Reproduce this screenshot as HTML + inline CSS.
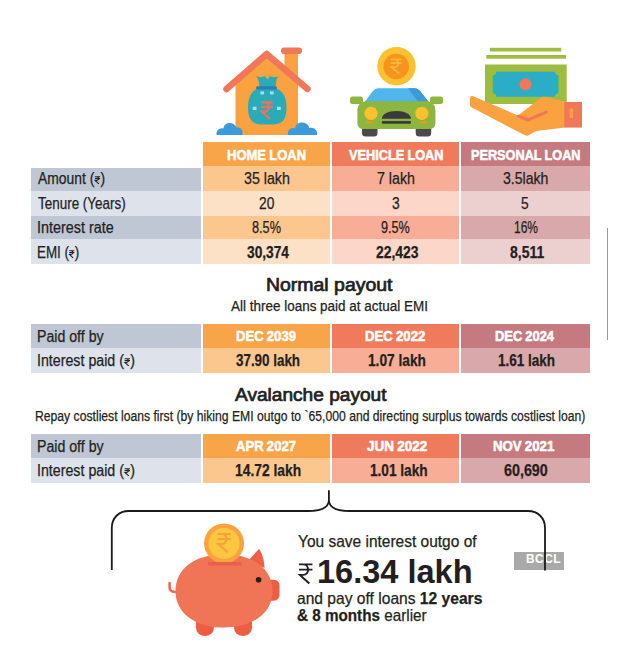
<!DOCTYPE html>
<html><head><meta charset="utf-8"><title>Loan payout</title>
<style>
html,body{margin:0;padding:0;background:#fff}
body{width:630px;height:647px;position:relative;overflow:hidden;font-family:"Liberation Sans",sans-serif;color:#231f20}
.r{position:absolute}
.t{position:absolute;white-space:nowrap;line-height:1;transform-origin:0 0;display:inline-block}
.t b{font-weight:bold}
.t{-webkit-text-stroke:0.25px currentColor}
.rs{display:inline-block;vertical-align:baseline;overflow:visible}
.art{position:absolute;left:0;top:0}
</style></head><body>
<div class="r" style="left:203.0px;top:142.0px;width:127.0px;height:24.3px;background:#f8a549"></div>
<div class="r" style="left:332.3px;top:142.0px;width:126.5px;height:24.3px;background:#f07b5c"></div>
<div class="r" style="left:461.0px;top:142.0px;width:129.0px;height:24.3px;background:#c47a7e"></div>
<div class="r" style="left:31.0px;top:167.5px;width:170.0px;height:23.1px;background:#bfc7d5"></div>
<div class="r" style="left:203.0px;top:166.3px;width:127.0px;height:24.3px;background:#fcc78e"></div>
<div class="r" style="left:332.3px;top:166.3px;width:126.5px;height:24.3px;background:#f8ae96"></div>
<div class="r" style="left:461.0px;top:166.3px;width:129.0px;height:24.3px;background:#d9a8aa"></div>
<div class="r" style="left:31.0px;top:190.6px;width:170.0px;height:25.4px;background:#dde2eb"></div>
<div class="r" style="left:203.0px;top:190.6px;width:127.0px;height:25.4px;background:#fde1c6"></div>
<div class="r" style="left:332.3px;top:190.6px;width:126.5px;height:25.4px;background:#fcd6c8"></div>
<div class="r" style="left:461.0px;top:190.6px;width:129.0px;height:25.4px;background:#ecd0d0"></div>
<div class="r" style="left:31.0px;top:216.0px;width:170.0px;height:23.4px;background:#bfc7d5"></div>
<div class="r" style="left:203.0px;top:216.0px;width:127.0px;height:23.4px;background:#fcc78e"></div>
<div class="r" style="left:332.3px;top:216.0px;width:126.5px;height:23.4px;background:#f8ae96"></div>
<div class="r" style="left:461.0px;top:216.0px;width:129.0px;height:23.4px;background:#d9a8aa"></div>
<div class="r" style="left:31.0px;top:239.4px;width:170.0px;height:24.9px;background:#dde2eb"></div>
<div class="r" style="left:203.0px;top:239.4px;width:127.0px;height:24.9px;background:#fde1c6"></div>
<div class="r" style="left:332.3px;top:239.4px;width:126.5px;height:24.9px;background:#fcd6c8"></div>
<div class="r" style="left:461.0px;top:239.4px;width:129.0px;height:24.9px;background:#ecd0d0"></div>
<div class="r" style="left:31.0px;top:324.0px;width:170.0px;height:24.4px;background:#bfc7d5"></div>
<div class="r" style="left:31.0px;top:348.4px;width:170.0px;height:24.6px;background:#dde2eb"></div>
<div class="r" style="left:203.0px;top:324.0px;width:127.0px;height:24.4px;background:#f8a549"></div>
<div class="r" style="left:203.0px;top:348.4px;width:127.0px;height:24.6px;background:#fcc78e"></div>
<div class="r" style="left:332.3px;top:324.0px;width:126.5px;height:24.4px;background:#f07b5c"></div>
<div class="r" style="left:332.3px;top:348.4px;width:126.5px;height:24.6px;background:#f8ae96"></div>
<div class="r" style="left:461.0px;top:324.0px;width:129.0px;height:24.4px;background:#c47a7e"></div>
<div class="r" style="left:461.0px;top:348.4px;width:129.0px;height:24.6px;background:#d9a8aa"></div>
<div class="r" style="left:31.0px;top:434.0px;width:170.0px;height:24.4px;background:#bfc7d5"></div>
<div class="r" style="left:31.0px;top:458.4px;width:170.0px;height:24.6px;background:#dde2eb"></div>
<div class="r" style="left:203.0px;top:434.0px;width:127.0px;height:24.4px;background:#f8a549"></div>
<div class="r" style="left:203.0px;top:458.4px;width:127.0px;height:24.6px;background:#fcc78e"></div>
<div class="r" style="left:332.3px;top:434.0px;width:126.5px;height:24.4px;background:#f07b5c"></div>
<div class="r" style="left:332.3px;top:458.4px;width:126.5px;height:24.6px;background:#f8ae96"></div>
<div class="r" style="left:461.0px;top:434.0px;width:129.0px;height:24.4px;background:#c47a7e"></div>
<div class="r" style="left:461.0px;top:458.4px;width:129.0px;height:24.6px;background:#d9a8aa"></div>
<div class="r" style="left:514.1px;top:551.7px;width:50px;height:18.1px;background:#a9a9a9"></div>
<div class="r" style="left:606.5px;top:228px;width:1px;height:112px;background:#9a9a9a"></div>
<span class="t" id="t43" style="left:525.75px;top:553.00px;font-size:12.5px;font-weight:bold;color:#fff;transform:scaleX(0.9514);letter-spacing:0.5px;-webkit-text-stroke:0;z-index:0;">BCCL</span>
<svg class="art" width="630" height="647" viewBox="0 0 630 647">
<!-- HOUSE -->
<g id="house">
<rect x="284.500" y="52" width="13.500" height="40" fill="#f9a23f"/>
<rect x="281" y="47.500" width="21" height="6.500" rx="3" fill="#f0775a"/>
<path d="M235.500 135V82L266.700 54L298 82V135z" fill="#f9a23f"/>
<path d="M226.500 89L266.700 54L307.500 89" fill="none" stroke="#f0775a" stroke-width="6.500" stroke-linecap="round" stroke-linejoin="round"/>
<path d="M256.500 76.200c3.500 1.300 6 1.300 8.500-.2l2.500 3.500l2.500-3.500c2.500 1.500 5 1.500 8 .2c-2 4.500-3 8.500-2 12h-17c1-3.500 0-7.500-2.500-12z" fill="#2aabb9"/>
<path d="M257 89C250.500 92 248 99 248 108C248 118.500 252 124.400 261 124.400H273.500C282.500 124.400 286.500 118.500 286.500 108C286.500 99 284 92 277.500 89z" fill="#2aabb9"/>
<rect x="256" y="86.200" width="21" height="3.400" rx="1.500" fill="#2d7db3"/>
<g fill="#a9dcec"><rect x="260.300" y="91.400" width="3.800" height="3"/><rect x="269.900" y="91.400" width="3.800" height="3"/><rect x="252.700" y="106.700" width="3.800" height="3.300"/><rect x="277" y="106.700" width="3.800" height="3.300"/></g>
<path d="M0.8 1.2H9.4M0.8 4.6H9.4M0.8 1.2H3.6C7.600 1.2 7.600 8 3.6 8H1.4L7.4 13.6" fill="none" transform="translate(259.800 100.800) scale(1.370 1.340)" stroke="#f0705a" stroke-width="1.650"/>
<path d="M216.500 135c-.5-4.500 3-7.500 7-6.500c.5-6.500 10-7.500 13-1c4-1 7 3 6 7.500z" fill="#3d9bdc"/>
<path d="M288 135c-1-5 3-8 7-6.500c1-7.500 12-8 14.500-.5c4.500-1.500 8.500 2.500 7.500 7z" fill="#3d9bdc"/>
</g>
<!-- CAR -->
<g id="car">
<circle cx="396.500" cy="66.200" r="19.200" fill="#fbc12e"/>
<circle cx="396.200" cy="66.500" r="12.700" fill="#f7941e"/>
<path d="M0.8 1.2H9.4M0.8 4.6H9.4M0.8 1.2H3.6C7.600 1.2 7.600 8 3.6 8H1.4L7.4 13.6" fill="none" transform="translate(389.800 57.900) scale(1.280 1.160)" stroke="#fbb63a" stroke-width="1.500"/>
<rect x="362" y="125" width="15.500" height="11.500" rx="3.500" fill="#4a4a4c"/>
<rect x="415.700" y="125" width="15.500" height="11.500" rx="3.500" fill="#4a4a4c"/>
<rect x="350" y="96.500" width="13" height="7.500" rx="2.500" fill="#8db63f"/>
<rect x="430" y="96.500" width="13" height="7.500" rx="2.500" fill="#8db63f"/>
<path d="M364 103L372.500 91.500c1.500-2 3.500-3.300 6-3.300h36c2.500 0 4.500 1.300 6 3.300L429.500 103z" fill="#4fb5ea"/>
<path d="M408 88.200h6.500c2.500 0 4.500 1.300 6 3.300L429.500 103H419z" fill="#3c9ad6"/>
<path d="M357.400 110c0-5 4-8.800 9-8.800h60c5 0 9 3.800 9 8.800v13.500c0 3-2.500 5.500-5.500 5.500h-67c-3 0-5.500-2.500-5.500-5.500z" fill="#8db63f"/>
<circle cx="371" cy="113.300" r="6.600" fill="#fbc12e"/>
<circle cx="421.800" cy="113.300" r="6.600" fill="#fbc12e"/>
<ellipse cx="369.500" cy="122.200" rx="3.200" ry="1.500" fill="#f7941e"/>
<ellipse cx="423.300" cy="122.200" rx="3.200" ry="1.500" fill="#f7941e"/>
<path d="M381.800 118.800c0-4.500 6-7.800 14.600-7.800s14.600 3.300 14.600 7.800z" fill="#3a3a3c"/>
<rect x="381.800" y="121" width="29.200" height="2.700" rx="1.300" fill="#3a3a3c"/>
</g>
<!-- HAND -->
<g id="hand">
<rect x="489.800" y="47.800" width="71.500" height="3.700" fill="#9dbc40"/>
<rect x="486.300" y="55" width="79.700" height="3.700" fill="#9dbc40"/>
<rect x="485" y="64.500" width="81.700" height="39.500" fill="#9dbc40"/>
<path d="M496.300 71.700h58.600c0 2 1.500 3.500 3.500 3.500v18c-2 0-3.500 1.500-3.500 3.500h-58.600c0-2-1.500-3.500-3.500-3.500v-18c2 0 3.500-1.500 3.500-3.500z" fill="#2badc6"/>
<circle cx="525.500" cy="84.300" r="6" fill="#f0775a"/>
<path d="M470 98.300C470 96.300 471.800 95.600 473.800 96.500L518 115.500L540 98.500c2-1.500 4-2 6.500-1.500L565 101.500V127.600L540 130.500c-4 .5-7 2-10.500 4.300c-2 1.300-4 1-6-.3L471.300 107.300C470.400 106.800 470 106 470 105z" fill="#f9a23f"/>
<path d="M518.300 116.200L527.900 120L546.200 112.100" fill="none" stroke="#f0775a" stroke-width="3" stroke-linecap="round" stroke-linejoin="round"/>
<rect x="564.300" y="102" width="17.700" height="25.600" fill="#f0775a"/>
<rect x="569.500" y="108.600" width="3.600" height="9.400" fill="#f9a23f"/>
</g>
<!-- BRACE -->
<path d="M111.800 570V528c0-10 7-17 17-17H308C320.500 511 328.900 508 328.900 500V491V500C328.900 508 337.300 511 349.800 511H528c10 0 17 7 17 17V570.500" fill="none" stroke="#1a1a1a" stroke-width="1.800" stroke-linejoin="round"/>
<!-- PIGGY -->
<g id="pig">
<path d="M248 561L258.200 549.700c.6-.6 1.400-.4 1.700.4C262.800 556 264.300 561 264.600 568z" fill="#ee5f45"/>
<path d="M169.600 583v4.500c0 3 2 4.500 6.500 4.500" fill="none" stroke="#f06a4f" stroke-width="2.600" stroke-linecap="round"/>
<rect x="196" y="612" width="18" height="24" rx="8.500" fill="#ee5c42"/>
<rect x="234" y="612" width="18" height="24" rx="8.500" fill="#ee5c42"/>
<rect x="266" y="579.700" width="13.500" height="21" rx="5.500" fill="#ee5c42"/>
<path d="M175.5 590.9C175.5 568.9 194.9 554.3 224.0 554.3C253.1 554.3 272.5 568.9 272.5 590.9C272.5 612.9 253.1 627.5 224.0 627.5C194.9 627.5 175.5 612.9 175.5 590.9z" fill="#f07557"/>
<clipPath id="cc"><rect x="200" y="520" width="50" height="43.200"/></clipPath>
<g clip-path="url(#cc)">
<circle cx="224.050" cy="543.400" r="20" fill="#f9a23f"/>
<circle cx="224.050" cy="543.400" r="15.500" fill="#fbc640"/>
<path d="M0.8 1.2H9.4M0.8 4.6H9.4M0.8 1.2H3.6C7.600 1.2 7.600 8 3.6 8H1.4L7.4 13.6" fill="none" transform="translate(216.100 532.300) scale(1.570 1.470)" stroke="#f7a13a" stroke-width="1.400"/>
</g>
<rect x="207.900" y="562" width="33.800" height="3.600" fill="#e9604a"/>
<circle cx="258.600" cy="579.700" r="2.800" fill="#231f20"/>
</g>
<!-- BIG RUPEE -->
<path d="M0.8 1.2H9.4M0.8 4.6H9.4M0.8 1.2H3.6C7.600 1.2 7.600 8 3.6 8H1.4L7.4 13.6" fill="none" transform="translate(297.700 562.500) scale(1.570 1.550)" stroke="#231f20" stroke-width="1.250"/>
</svg>
<span class="t" id="t0" style="left:226.76px;top:147.00px;font-size:15.5px;font-weight:bold;color:#fff;transform:scaleX(0.8387);word-spacing:-0.5px;-webkit-text-stroke:0.6px #fff;">HOME LOAN</span>
<span class="t" id="t1" style="left:348.60px;top:147.00px;font-size:15.5px;font-weight:bold;color:#fff;transform:scaleX(0.8228);word-spacing:-0.5px;-webkit-text-stroke:0.6px #fff;">VEHICLE LOAN</span>
<span class="t" id="t2" style="left:470.58px;top:147.00px;font-size:15.5px;font-weight:bold;color:#fff;transform:scaleX(0.8197);word-spacing:-0.5px;-webkit-text-stroke:0.6px #fff;">PERSONAL LOAN</span>
<span class="t" id="t3" style="left:37.60px;top:171.00px;font-size:16px;color:#231f20;transform:scaleX(0.8675);">Amount (<svg class="rs" style="width:0.44em;height:0.50em" viewBox="0 0 10 14" preserveAspectRatio="none" fill="none" stroke="currentColor" stroke-width="1.82" stroke-linecap="butt" stroke-linejoin="miter"><path d="M0.8 1.2H9.4M0.8 4.6H9.4M0.8 1.2H3.6C7.6 1.2 7.6 8 3.6 8H1.4L7.4 13.6"/></svg>)</span>
<span class="t" id="t4" style="left:37.60px;top:196.00px;font-size:16px;color:#231f20;transform:scaleX(0.8404);">Tenure (Years)</span>
<span class="t" id="t5" style="left:36.70px;top:220.00px;font-size:16px;color:#231f20;transform:scaleX(0.8976);">Interest rate</span>
<span class="t" id="t6" style="left:36.76px;top:245.00px;font-size:16px;color:#231f20;transform:scaleX(0.8367);">EMI (<svg class="rs" style="width:0.44em;height:0.50em" viewBox="0 0 10 14" preserveAspectRatio="none" fill="none" stroke="currentColor" stroke-width="1.82" stroke-linecap="butt" stroke-linejoin="miter"><path d="M0.8 1.2H9.4M0.8 4.6H9.4M0.8 1.2H3.6C7.6 1.2 7.6 8 3.6 8H1.4L7.4 13.6"/></svg>)</span>
<span class="t" id="t7" style="left:243.71px;top:171.00px;font-size:16px;color:#231f20;transform:scaleX(0.8880);">35 lakh</span>
<span class="t" id="t8" style="left:258.53px;top:196.00px;font-size:16px;color:#231f20;transform:scaleX(0.8600);">20</span>
<span class="t" id="t9" style="left:251.81px;top:220.00px;font-size:16px;color:#231f20;transform:scaleX(0.7943);">8.5%</span>
<span class="t" id="t10" style="left:247.00px;top:245.00px;font-size:16px;font-weight:bold;color:#231f20;transform:scaleX(0.8571);">30,374</span>
<span class="t" id="t11" style="left:377.11px;top:171.00px;font-size:16px;color:#231f20;transform:scaleX(0.8878);">7 lakh</span>
<span class="t" id="t12" style="left:391.93px;top:196.00px;font-size:16px;color:#231f20;transform:scaleX(0.8600);">3</span>
<span class="t" id="t13" style="left:381.21px;top:220.00px;font-size:16px;color:#231f20;transform:scaleX(0.7886);">9.5%</span>
<span class="t" id="t14" style="left:376.40px;top:245.00px;font-size:16px;font-weight:bold;color:#231f20;transform:scaleX(0.8694);">22,423</span>
<span class="t" id="t15" style="left:502.72px;top:171.00px;font-size:16px;color:#231f20;transform:scaleX(0.8800);">3.5lakh</span>
<span class="t" id="t16" style="left:521.43px;top:196.00px;font-size:16px;color:#231f20;transform:scaleX(0.8600);">5</span>
<span class="t" id="t17" style="left:513.65px;top:220.00px;font-size:16px;color:#231f20;transform:scaleX(0.7484);">16%</span>
<span class="t" id="t18" style="left:509.60px;top:245.00px;font-size:16px;font-weight:bold;color:#231f20;transform:scaleX(0.8718);">8,511</span>
<span class="t" id="t19" style="left:265.59px;top:277.00px;font-size:17.5px;color:#231f20;transform:scaleX(1.1115);-webkit-text-stroke:0.7px currentColor;">Normal payout</span>
<span class="t" id="t20" style="left:231.00px;top:299.00px;font-size:14px;color:#231f20;transform:scaleX(0.9623);">All three loans paid at actual EMI</span>
<span class="t" id="t21" style="left:36.72px;top:329.00px;font-size:16px;color:#231f20;transform:scaleX(0.8838);">Paid off by</span>
<span class="t" id="t22" style="left:36.71px;top:353.00px;font-size:16px;color:#231f20;transform:scaleX(0.8889);">Interest paid (<svg class="rs" style="width:0.44em;height:0.50em" viewBox="0 0 10 14" preserveAspectRatio="none" fill="none" stroke="currentColor" stroke-width="1.82" stroke-linecap="butt" stroke-linejoin="miter"><path d="M0.8 1.2H9.4M0.8 4.6H9.4M0.8 1.2H3.6C7.6 1.2 7.6 8 3.6 8H1.4L7.4 13.6"/></svg>)</span>
<span class="t" id="t23" style="left:235.56px;top:328.00px;font-size:15.5px;font-weight:bold;color:#fff;transform:scaleX(0.8443);word-spacing:-0.5px;-webkit-text-stroke:0.6px #fff;">DEC 2039</span>
<span class="t" id="t24" style="left:236.40px;top:353.00px;font-size:16px;font-weight:bold;color:#231f20;transform:scaleX(0.8368);">37.90 lakh</span>
<span class="t" id="t25" style="left:365.45px;top:328.00px;font-size:15.5px;font-weight:bold;color:#fff;transform:scaleX(0.8486);word-spacing:-0.5px;-webkit-text-stroke:0.6px #fff;">DEC 2022</span>
<span class="t" id="t26" style="left:368.34px;top:353.00px;font-size:16px;font-weight:bold;color:#231f20;transform:scaleX(0.8561);">1.07 lakh</span>
<span class="t" id="t27" style="left:495.07px;top:328.00px;font-size:15.5px;font-weight:bold;color:#fff;transform:scaleX(0.8310);word-spacing:-0.5px;-webkit-text-stroke:0.6px #fff;">DEC 2024</span>
<span class="t" id="t28" style="left:498.36px;top:353.00px;font-size:16px;font-weight:bold;color:#231f20;transform:scaleX(0.8439);">1.61 lakh</span>
<span class="t" id="t29" style="left:235.00px;top:387.00px;font-size:17.5px;color:#231f20;transform:scaleX(1.0914);-webkit-text-stroke:0.7px currentColor;">Avalanche payout</span>
<span class="t" id="t30" style="left:35.13px;top:409.00px;font-size:14px;color:#231f20;transform:scaleX(0.8700);">Repay costliest loans first (by hiking EMI outgo to `65,000 and directing surplus towards costliest loan)</span>
<span class="t" id="t31" style="left:36.72px;top:439.00px;font-size:16px;color:#231f20;transform:scaleX(0.8838);">Paid off by</span>
<span class="t" id="t32" style="left:36.71px;top:463.00px;font-size:16px;color:#231f20;transform:scaleX(0.8889);">Interest paid (<svg class="rs" style="width:0.44em;height:0.50em" viewBox="0 0 10 14" preserveAspectRatio="none" fill="none" stroke="currentColor" stroke-width="1.82" stroke-linecap="butt" stroke-linejoin="miter"><path d="M0.8 1.2H9.4M0.8 4.6H9.4M0.8 1.2H3.6C7.6 1.2 7.6 8 3.6 8H1.4L7.4 13.6"/></svg>)</span>
<span class="t" id="t33" style="left:235.70px;top:438.00px;font-size:15.5px;font-weight:bold;color:#fff;transform:scaleX(0.8451);word-spacing:-0.5px;-webkit-text-stroke:0.6px #fff;">APR 2027</span>
<span class="t" id="t34" style="left:234.84px;top:463.00px;font-size:16px;font-weight:bold;color:#231f20;transform:scaleX(0.8640);">14.72 lakh</span>
<span class="t" id="t35" style="left:366.70px;top:438.00px;font-size:15.5px;font-weight:bold;color:#fff;transform:scaleX(0.8696);word-spacing:-0.5px;-webkit-text-stroke:0.6px #fff;">JUN 2022</span>
<span class="t" id="t36" style="left:369.65px;top:463.00px;font-size:16px;font-weight:bold;color:#231f20;transform:scaleX(0.8515);">1.01 lakh</span>
<span class="t" id="t37" style="left:493.45px;top:438.00px;font-size:15.5px;font-weight:bold;color:#fff;transform:scaleX(0.8521);word-spacing:-0.5px;-webkit-text-stroke:0.6px #fff;">NOV 2021</span>
<span class="t" id="t38" style="left:503.80px;top:463.00px;font-size:16px;font-weight:bold;color:#231f20;transform:scaleX(0.8938);">60,690</span>
<span class="t" id="t39" style="left:298.30px;top:533.00px;font-size:16.5px;color:#231f20;transform:scaleX(0.9389);">You save interest outgo of</span>
<span class="t" id="t40" style="left:316.53px;top:555.00px;font-size:33px;font-weight:bold;color:#231f20;transform:scaleX(0.9857);-webkit-text-stroke:0;">16.34 lakh</span>
<span class="t" id="t41" style="left:297.35px;top:590.00px;font-size:16.5px;color:#231f20;transform:scaleX(0.9454);">and pay off loans <b>12 years</b></span>
<span class="t" id="t42" style="left:297.38px;top:607.00px;font-size:16.5px;color:#231f20;transform:scaleX(0.9237);"><b>&amp; 8 months</b> earlier</span>
</body></html>
